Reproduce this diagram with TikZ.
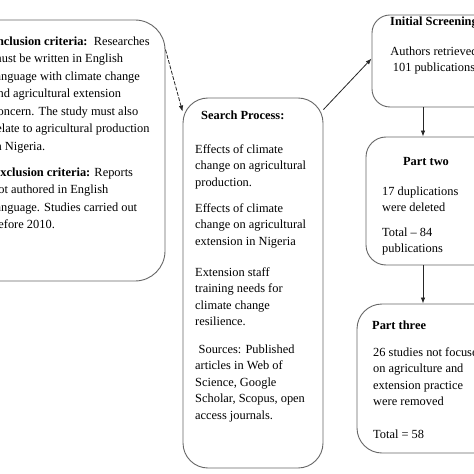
\documentclass[tikz,border=0pt]{standalone}
\usepackage{fontspec}
\setmainfont{Liberation Serif}
\usetikzlibrary{arrows.meta}
\begin{document}
\begin{tikzpicture}[x=1bp,y=-1bp,
  box/.style={draw=black!60, line width=0.9bp, inner sep=0pt},
  arr/.style={-{Latex[length=6bp,width=4.5bp]}, line width=0.8bp, draw=black!85},
  txtL/.style={anchor=north west, inner sep=0pt, align=left, font=\fontsize{12.4bp}{17.5bp}\selectfont},
  txt/.style={anchor=north west, inner sep=0pt, align=left, font=\fontsize{12.4bp}{16.5bp}\selectfont},
  ttl/.style={inner sep=0pt, font=\fontsize{12.4bp}{16.5bp}\selectfont\bfseries}
]
\useasboundingbox (0,0) rectangle (474,474);
\fill[white] (0,0) rectangle (474,474);
\clip (0,0) rectangle (474,474);

% boxes
\node[box, rounded corners=30bp, minimum width=195bp, minimum height=261bp] (L) at (67.5,150.5) {};
\node[box, rounded corners=25bp, minimum width=140bp, minimum height=370bp] (S) at (253,283) {};
\node[box, rounded corners=18bp, minimum width=128bp, minimum height=92bp] (I) at (436,61) {};
\node[box, rounded corners=20bp, minimum width=134bp, minimum height=128bp] (P2) at (433,201) {};
\node[box, rounded corners=25bp, minimum width=143bp, minimum height=149bp] (P3) at (428.5,378.5) {};

% left box text
\node[txtL] (Lt1) at (-8,32.75) {\strut\textbf{Inclusion criteria:}\ \ Researches\\must be written in English\\language with climate change\\and agricultural extension\\concern. The study must also\\relate to agricultural production\\in Nigeria.};
\node[txtL] (Lt2) at (-8,163.75) {\strut\textbf{Exclusion criteria:} Reports\\not authored in English\\language. Studies carried out\\before 2010.};

% search box text
\node[ttl, anchor=base west] (St0) at (201,120) {Search Process:};
\node[txt] (St1) at (195,141.45) {\strut Effects of climate\\change on agricultural\\production.};
\node[txt] (St2) at (195,200.45) {\strut Effects of climate\\change on agricultural\\extension in Nigeria};
\node[txt] (St3) at (195,264.45) {\strut Extension staff\\training needs for\\climate change\\resilience.};
\node[txt] (St4) at (195,341.45) {\strut\hspace*{3.5bp}Sources: Published\\articles in Web of\\Science, Google\\Scholar, Scopus, open\\access journals.};

% initial screening
\node[ttl, anchor=base] (It0) at (434,26) {Initial Screening};
\node[txt, anchor=north, align=center] (It1) at (434,43.45) {\strut Authors retrieved\\101 publications};

% part two
\node[ttl, anchor=base] (Pt0) at (426,166) {Part two};
\node[txt] (Pt1) at (382,183.45) {\strut 17 duplications\\were deleted};
\node[txt] (Pt2) at (382,224.45) {\strut Total -- 84\\publications};

% part three
\node[ttl, anchor=base west] (Qt0) at (372,329) {Part three};
\node[txt] (Qt1) at (373,344.45) {\strut 26 studies not focused\\on agriculture and\\extension practice\\were removed};
\node[txt, anchor=base west] (Qt2) at (373,438) {Total = 58};

% connectors
\draw[arr, dash pattern=on 4bp off 1.5bp] ([yshift=-30bp]L.north east) -- ([yshift=-14bp]S.north west);
\draw[arr] ([yshift=-12bp]S.north east) -- ([yshift=-44bp]I.north west);
\coordinate (ax) at (423,0);
\draw[arr] (I.south -| ax) -- (P2.north -| ax);
\draw[arr] (P2.south -| ax) -- (P3.north -| ax);
\end{tikzpicture}
\end{document}
